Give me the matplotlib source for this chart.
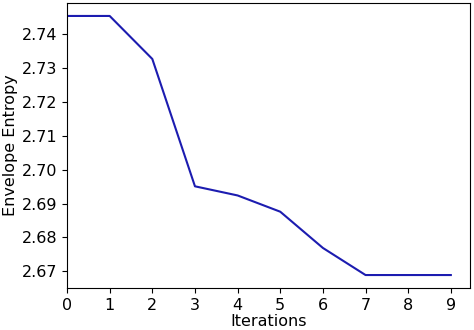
import matplotlib
matplotlib.use("Agg")
import matplotlib.pyplot as plt

iterations = [0, 1, 2, 3, 4, 5, 6, 7, 8, 9]
entropy = [2.7454, 2.7454, 2.7327, 2.6951, 2.6924, 2.6876, 2.6769, 2.6689, 2.6689, 2.6689]


def main() -> None:
    fig = plt.figure(figsize=(4.74, 3.30), dpi=100)
    ax = fig.add_axes([0.1414, 0.1273, 0.8502, 0.8636])
    ax.plot(iterations, entropy, color="#1c1cb0", linewidth=1.5)
    ax.set_xlim(left=0, right=9.45)
    ax.set_xticks(iterations)
    ax.set_yticks([2.67, 2.68, 2.69, 2.70, 2.71, 2.72, 2.73, 2.74])
    ax.tick_params(labelsize=11.5)
    ax.set_xlabel("Iterations", fontsize=11.5, labelpad=1)
    ax.set_ylabel("Envelope Entropy", fontsize=11.5, labelpad=3)
    fig.savefig("out.png", dpi=100)
    plt.close(fig)


if __name__ == "__main__":
    main()
